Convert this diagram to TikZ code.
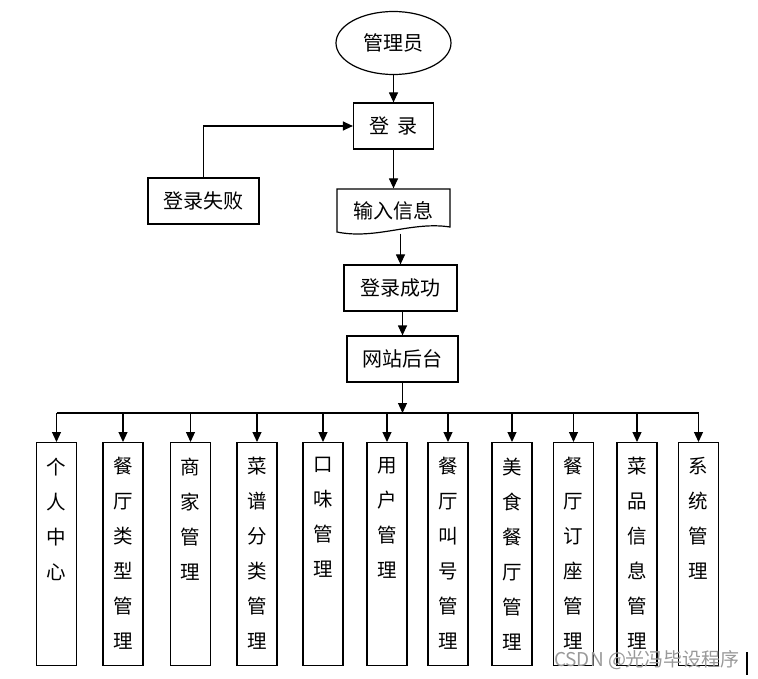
\documentclass[tikz,border=0pt]{standalone}
\usepackage{fontspec}
\setmainfont{Noto Sans CJK SC}
\usetikzlibrary{arrows.meta, shapes.geometric, positioning}

\tikzset{
  box/.style={rectangle, draw, inner sep=0pt, minimum height=46},
  module/.style={rectangle, draw, anchor=north, inner sep=0pt, minimum width=40, minimum height=223},
  modtext/.style={anchor=north, inner sep=0pt, align=center, font=\fontsize{19.5}{35}\selectfont}
}

\begin{document}
\begin{tikzpicture}[x=1pt, y=-1pt, >={Triangle[length=10pt, width=9pt]}, line width=1.2pt, font=\fontsize{20}{24}\selectfont]
        \useasboundingbox (0,0) rectangle (758,679);
        % top part
        \node [ellipse, draw, minimum width=115, minimum height=63, inner sep=0pt] (admin) at (393.5, 43) {管理员};
        \node [box, minimum width=80] (login) at (393.5, 126) {登\hspace{0.45em}录};
        \node [box, minimum width=111] (fail) at (203.5, 201) {登录失败};
        \node [rectangle, inner sep=0pt, minimum width=113, minimum height=44] (input) at (393.5, 211) {输入信息};
        \draw (337, 189) -- (450, 189) -- (450, 227) .. controls (412, 221) and (376, 240) .. (337, 232) -- cycle;
        \node [box, minimum width=113] (ok) at (400.5, 288) {登录成功};
        \node [box, minimum width=111] (backend) at (402.5, 359) {网站后台};
        \coordinate (bus) at (402.5, 413);
        \draw [->] (admin) -- (login);
        \draw [->] (login) -- (input);
        \draw [->] (fail.north) |- (login.west);
        \draw [->] (input.south -| ok.north) -- (ok.north);
        \draw [->] (ok.south -| backend.north) -- (backend.north);
        \draw [->] (backend) -- (bus);
        % modules
        \foreach \x/\t [count=\i] in {56.5/{个\\人\\中\\心}, 123/{餐\\厅\\类\\型\\管\\理}, 190.5/{商\\家\\管\\理},
            257/{菜\\谱\\分\\类\\管\\理}, 323/{口\\味\\管\\理}, 387/{用\\户\\管\\理}, 448/{餐\\厅\\叫\\号\\管\\理},
            512/{美\\食\\餐\\厅\\管\\理}, 573.5/{餐\\厅\\订\\座\\管\\理}, 637/{菜\\品\\信\\息\\管\\理}, 698.5/{系\\统\\管\\理}} {
            \node [module] (m\i) at (\x, 442) {};
            \node [modtext] (t\i) at ([yshift=-15pt]m\i.north) {\t};
            \draw [->] (m\i |- bus) -- (m\i.north);
        }
        \draw (m1 |- bus) -- (m11 |- bus);
        % watermark
        \node [text=black!40, font=\fontsize{19}{21}\selectfont, inner sep=0pt] (mark) at (647, 660) {CSDN @光冯毕设程序};
        \draw [line width=2pt] (747, 652) -- (747, 675);
\end{tikzpicture}
\end{document}
